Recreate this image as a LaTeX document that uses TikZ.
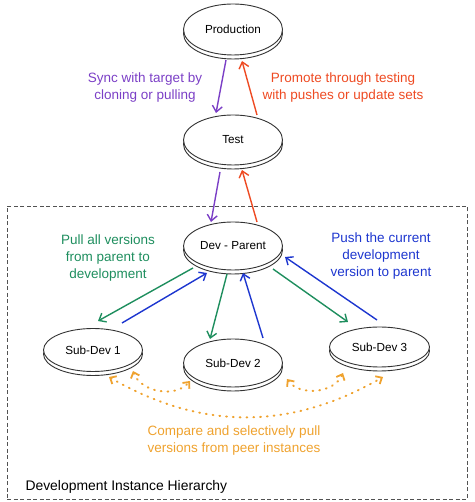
\documentclass[tikz,border=0pt]{standalone}
\usepackage{fontspec}
\setmainfont{Liberation Sans}
\usepackage{xcolor}
\usetikzlibrary{positioning,arrows.meta,shadows,shapes.geometric}
\definecolor{SyncPurple}{HTML}{7B3FC6}
\definecolor{PromoteRed}{HTML}{EE4A22}
\definecolor{PullGreen}{HTML}{1E8E5E}
\definecolor{PushBlue}{HTML}{1D36CF}
\definecolor{PeerOrange}{HTML}{EFA22E}
\definecolor{EdgeGray}{HTML}{333333}

\begin{document}
\begin{tikzpicture}[
    x=1pt, y=1pt,
    instance/.style={
      ellipse,
      draw=EdgeGray,
      line width=0.9pt,
      fill=white,
      minimum width=99pt,
      inner sep=0pt,
      font=\fontsize{11.7}{14}\selectfont,
      general shadow={fill=white, draw=EdgeGray, line width=0.9pt, shadow yshift=-4pt}
    },
    flow/.style={line width=1.4pt, -{Straight Barb[length=6pt,width=10pt]}},
    peer/.style={line width=2pt, line cap=round, dash pattern=on 0.8pt off 6pt,
      {Straight Barb[length=5pt,width=9pt,line width=1.8pt]}-{Straight Barb[length=5pt,width=9pt,line width=1.8pt]}},
    note/.style={align=center, font=\fontsize{13.5}{17}\selectfont}
  ]
    \useasboundingbox (0,0) rectangle (474,502);

    % dashed frame round the development instances
    \node[draw=EdgeGray!85, line width=0.8pt, dash pattern=on 4pt off 2.5pt,
      minimum width=460pt, minimum height=293pt, inner sep=0pt] (hier) at (237,149.5) {};
    \node[anchor=west, font=\fontsize{13.9}{17}\selectfont] (hierlabel) at (22,15)
      {Development Instance Hierarchy};

    % instances
    \node[instance, minimum height=51pt] (prod) at (233,472.5) {Production};
    \node[instance, minimum height=50pt] (test) at (233,362) {Test};
    \node[instance, minimum height=48pt] (parent) at (233,256) {Dev - Parent};
    \node[instance, minimum height=43pt] (sub1) at (93,152) {Sub-Dev 1};
    \node[instance, minimum height=48pt] (sub2) at (233,139) {Sub-Dev 2};
    \node[instance, minimum height=40pt, minimum width=100pt] (sub3) at (379.5,155) {Sub-Dev 3};

    % labels
    \node[note, text=SyncPurple] (synclabel) at (145,414.5)
      {Sync with target by\\cloning or pulling};
    \node[note, text=PromoteRed] (promotelabel) at (343,414.5)
      {Promote through testing\\with pushes or update sets};
    \node[note, text=PullGreen] (pulllabel) at (108,244)
      {Pull all versions\\from parent to\\development};
    \node[note, text=PushBlue] (pushlabel) at (381,245.5)
      {Push the current\\development\\version to parent};
    \node[note, text=PeerOrange] (comparelabel) at (234,61)
      {Compare and selectively pull\\versions from peer instances};

    % sync down, promote up
    \draw[flow, SyncPurple] ([shift={(-7,-30.5)}]prod.center) -- ([shift={(-17,27)}]test.center);
    \draw[flow, PromoteRed] ([shift={(24,25)}]test.center) -- ([shift={(9,-31.5)}]prod.center);
    \draw[flow, SyncPurple] ([shift={(-13,-32)}]test.center) -- ([shift={(-22,24)}]parent.center);
    \draw[flow, PromoteRed] ([shift={(24,24)}]parent.center) -- ([shift={(9,-30)}]test.center);

    % pull from parent, push to parent
    \draw[flow, PullGreen] ([shift={(-40,-22)}]parent.center) -- ([shift={(5,29)}]sub1.center);
    \draw[flow, PushBlue] ([shift={(29,27)}]sub1.center) -- ([shift={(-26,-27)}]parent.center);
    \draw[flow, PullGreen] ([shift={(-6,-28)}]parent.center) -- ([shift={(-23,24)}]sub2.center);
    \draw[flow, PushBlue] ([shift={(30,25)}]sub2.center) -- ([shift={(10,-27)}]parent.center);
    \draw[flow, PullGreen] ([shift={(40,-23)}]parent.center) -- ([shift={(-31.5,25)}]sub3.center);
    \draw[flow, PushBlue] ([shift={(-2.5,27)}]sub3.center) -- ([shift={(52,-11)}]parent.center);

    % peer comparison
    \draw[peer, PeerOrange] ([shift={(40,-21)}]sub1.center) to[bend right=60] ([shift={(-43,-18)}]sub2.center);
    \draw[peer, PeerOrange] ([shift={(54,-16)}]sub2.center) to[bend right=60] ([shift={(-36.5,-26)}]sub3.center);
    \draw[peer, PeerOrange] ([shift={(16,-27)}]sub1.center) to[bend right=30] ([shift={(3.5,-30)}]sub3.center);
  \end{tikzpicture}
\end{document}
